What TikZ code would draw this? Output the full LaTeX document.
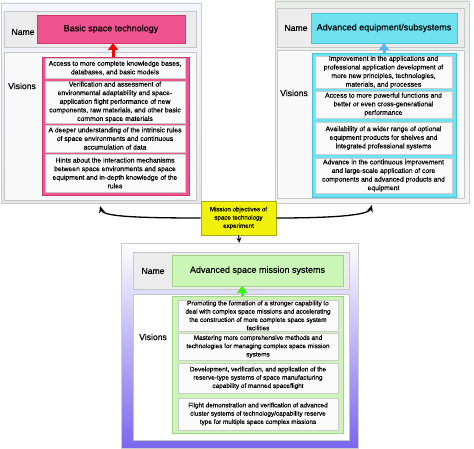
\documentclass[tikz,border=0pt]{standalone}
\usepackage{fontspec}
\setmainfont{Liberation Sans}[FakeBold=0.35]
\usetikzlibrary{arrows.meta}
\definecolor{pinkA}{RGB}{240,84,144}
\definecolor{pinkB}{RGB}{214,52,112}
\definecolor{cyanA}{RGB}{110,226,240}
\definecolor{cyanB}{RGB}{70,196,214}
\definecolor{greenA}{RGB}{204,246,184}
\definecolor{greenB}{RGB}{160,212,140}
\definecolor{yellA}{RGB}{240,240,10}
\definecolor{yellB}{RGB}{170,170,20}
\definecolor{purpA}{RGB}{120,104,236}
\tikzset{
  rowname/.style={draw=gray!45, fill=gray!15, line width=0.6pt},
  rowvis/.style={draw=gray!45, fill=white!95!gray, line width=0.6pt},
  lab/.style={font=\fontsize{8.6}{10}\selectfont, text=black},
  namebox/.style={line width=0.8pt, font=\fontsize{9}{11}\selectfont, text=black, inner sep=0pt},
  framebox/.style={line width=0.8pt},
  vbox/.style={fill=white!96!gray, draw=gray!40, line width=0.5pt, align=center, inner sep=0pt,
    font=\fontsize{6.8}{8.6}\selectfont, text=black},
  bvbox/.style={vbox, font=\fontsize{6.4}{8.3}\selectfont},
  blockarrow/.style={line width=3pt, -{Triangle[width=10pt,length=7pt]}},
  curvearrow/.style={line width=1.3pt, -{Stealth[width=6pt,length=7pt]}, black},
}
\begin{document}
\begin{tikzpicture}[x=1pt,y=-1pt]
\useasboundingbox (0,0) rectangle (474,449);
% ---------- left panel ----------
\node[draw=gray!40, line width=0.8pt, top color=white!96!blue, bottom color=blue!8!gray!18, minimum width=200pt, minimum height=200pt] (lo) at (101,103) {};
\node[rowname, minimum width=192pt, minimum height=36pt] (lnr) at (100,29) {};
\node[rowvis, minimum width=192pt, minimum height=148pt] (lvr) at (100,126) {};
\node[lab] (lnl) at (23,32) {Name};
\node[lab] (lvl) at (22,86) {Visions};
\node[namebox, fill=pinkA, draw=pinkB, minimum width=148pt, minimum height=28pt] (ln) at (111,29) {Basic space technology};
\node[framebox, fill=pinkA, draw=pinkB, minimum width=147pt, minimum height=138pt] (lf) at (115.5,126) {};
\node[vbox, minimum width=140pt, minimum height=20pt] (l1) at (115,68) {Access to more complete knowledge bases,\\ databases, and basic models};
\node[vbox, minimum width=140pt, minimum height=42pt] (l2) at (115,102) {Verification and assessment of\\ environmental adaptability and space-\\ application flight performance of new\\ components, raw materials, and other basic\\ common space materials};
\node[vbox, minimum width=140pt, minimum height=27pt] (l3) at (115,138.5) {A deeper understanding of the intrinsic rules\\ of space environments and continuous\\ accumulation of data};
\node[vbox, minimum width=140pt, minimum height=38pt] (l4) at (115,173) {Hints about the interaction mechanisms\\ between space environments and space\\ equipment and in-depth knowledge of the\\ rules};
\draw[blockarrow, red] (113,57) -- (113,43);
% ---------- right panel ----------
\node[draw=gray!40, line width=0.8pt, top color=green!12!gray!15, bottom color=white!92!gray, minimum width=194pt, minimum height=202pt] (ro) at (372,102) {};
\node[rowname, minimum width=187pt, minimum height=39pt] (rnr) at (370.5,27.5) {};
\node[rowvis, minimum width=187pt, minimum height=148pt] (rvr) at (370.5,124) {};
\node[lab] (rnl) at (296,28) {Name};
\node[lab] (rvl) at (294,93) {Visions};
\node[namebox, fill=cyanA, draw=cyanB, minimum width=146pt, minimum height=30pt] (rn) at (384,28) {Advanced equipment/subsystems};
\node[framebox, fill=cyanA, draw=cyanB, minimum width=144pt, minimum height=144pt] (rf) at (384,125) {};
\node[vbox, minimum width=137pt, minimum height=32pt] (r1) at (383.5,72) {Improvement in the applications and\\ professional application development of\\ more new principles, technologies,\\ materials, and processes};
\node[vbox, minimum width=137pt, minimum height=27pt] (r2) at (383.5,104.5) {Access to more powerful functions and\\ better or even cross-generational\\ performance};
\node[vbox, minimum width=137pt, minimum height=32pt] (r3) at (383.5,138) {Availability of a wider range of optional\\ equipment products for shelves and\\ integrated professional systems};
\node[vbox, minimum width=137pt, minimum height=35pt] (r4) at (383.5,175.5) {Advance in the continuous improvement\\ and large-scale application of core\\ components and advanced products and\\ equipment};
\draw[blockarrow, cyanA!80!blue] (384,53) -- (384,43);
% ---------- bottom panel ----------
\node[draw=gray!40, line width=0.8pt, top color=white, bottom color=purpA, minimum width=237pt, minimum height=205pt] (bo) at (239.5,345.5) {};
\node[rowname, minimum width=216pt, minimum height=37pt] (bnr) at (241,270.5) {};
\node[rowvis, fill=white, minimum width=216pt, minimum height=146pt] (bvr) at (241,367) {};
\node[lab] (bnl) at (153,271) {Name};
\node[lab] (bvl) at (153,337) {Visions};
\node[namebox, fill=greenA, draw=greenB, minimum width=171pt, minimum height=31pt] (bn) at (257.5,270.5) {Advanced space mission systems};
\node[framebox, fill=greenA, draw=greenB, minimum width=171pt, minimum height=137pt] (bf) at (257.5,364.5) {};
\node[bvbox, minimum width=160pt, minimum height=31pt] (b1) at (258,315.5) {Promoting the formation of a stronger capability to\\ deal with complex space missions and accelerating\\ the construction of more complete space system\\ facilities};
\node[bvbox, minimum width=160pt, minimum height=27pt] (b2) at (258,346.5) {Mastering more comprehensive methods and\\ technologies for managing complex space mission\\ systems};
\node[bvbox, minimum width=160pt, minimum height=30pt] (b3) at (258,378) {Development, verification, and application of the\\ reserve-type systems of space manufacturing\\ capability of manned spaceflight};
\node[bvbox, minimum width=160pt, minimum height=32pt] (b4) at (258,414) {Flight demonstration and verification of advanced\\ cluster systems of technology/capability reserve\\ type for multiple space complex missions};
\draw[blockarrow, green!75!lime] (242,296) -- (242,286);
% ---------- centre ----------
\node[fill=yellA, draw=yellB, line width=0.6pt, minimum width=75pt, minimum height=34pt, align=center, inner sep=0pt,
  font=\fontsize{6.2}{8.3}\selectfont, text=black] (y) at (238.5,218) {Mission objectives of\\ space technology\\ experiment};
\coordinate (lt) at (100,206);
\coordinate (rt) at (372,205);
\draw[curvearrow] (y.west) .. controls (130,218) and (103,216) .. (lt);
\draw[curvearrow] (y.east) .. controls (345,218) and (369,214) .. (rt);
\draw[line width=1pt, -{Stealth[width=5pt,length=5pt]}] (y.south) -- (bo.north);
\end{tikzpicture}
\end{document}
